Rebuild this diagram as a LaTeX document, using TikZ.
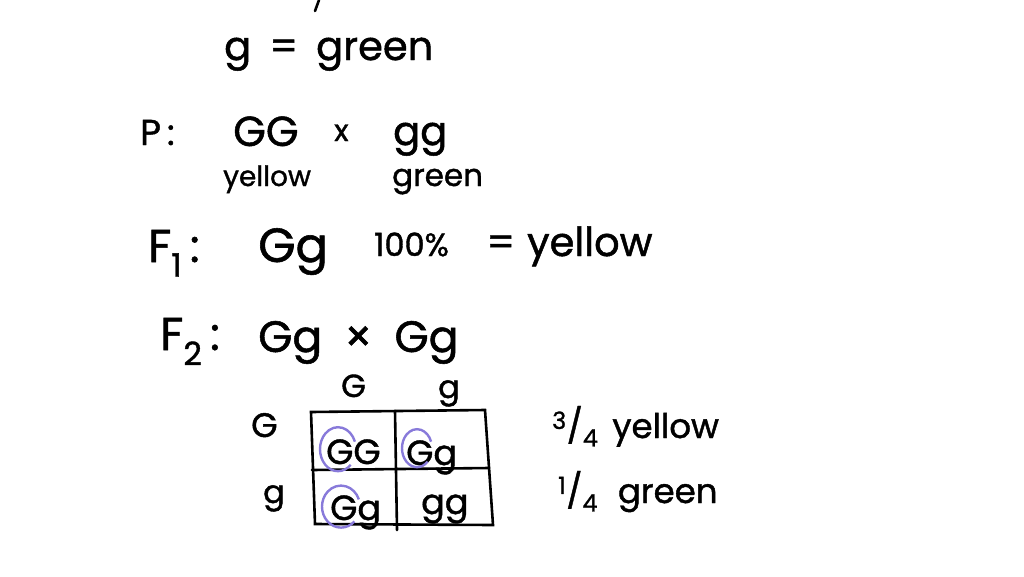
\documentclass[tikz,border=0pt]{standalone}
\usepackage{fontspec}
\setmainfont{Poppins}[FakeBold=1.2]
\begin{document}
\begin{tikzpicture}[x=1pt,y=-1pt,
  txt/.style={inner sep=0pt,anchor=base west,font=\fontsize{#1}{#1}\selectfont},
  txt/.default=34,
  grid/.style={line width=2.6pt,line cap=round,black},
  ring/.style={line width=2.4pt,color=ringc}]
\definecolor{ringc}{RGB}{136,122,218}
\useasboundingbox (0,0) rectangle (1024,576);
% cut-off stroke at the top
\coordinate (t1) at (319,0);
\coordinate (t2) at (315,11);
\draw[line width=2.6pt,line cap=round] (t1) -- (t2);
% key
\node[txt=40] (k) at (224,60) {g\hspace{18pt}=\hspace{18pt}green};
% P line
\node[txt=36] (p) at (140,145) {P\,:};
\node[txt=42] (pGG) at (233,146) {GG};
\node[txt=30] (px) at (334,141) {x};
\node[txt=40] (pgg) at (393,145) {gg};
\node[txt=28] (py) at (223,186) {yellow};
\node[txt=31] (pg) at (392,186) {green};
% F1 line
\node[txt=46] (f1) at (148,262) {F\textsubscript{1}\,:};
\node[txt=48] (f1g) at (258,262) {Gg};
\node[txt=32] (f1p) at (374,256) {100\%};
\node[txt=40] (f1y) at (486,256) {=\hspace{12pt}yellow};
% F2 line
\node[txt=46] (f2) at (160,350) {F\textsubscript{2}\,:};
\node[txt=44] (f2a) at (258,352) {Gg\hspace{22pt}×\hspace{22pt}Gg};
% Punnett headers
\node[txt=32] (hG) at (341,397) {G};
\node[txt=32] (hg) at (438,398) {g};
\node[txt=34] (rG) at (251,437) {G};
\node[txt=32] (rg) at (263,503) {g};
% grid
\coordinate (a) at (311,412);
\coordinate (b) at (485,410);
\coordinate (c) at (493,525);
\coordinate (d) at (315,524);
\coordinate (mt) at (395,411);
\coordinate (mb) at (397,530);
\coordinate (ml) at (312,470);
\coordinate (mr) at (489,468);
\draw[grid] (a) -- (b) -- (c) -- (d) -- cycle;
\draw[grid] (mt) -- (mb);
\draw[grid] (ml) -- (mr);
% cell contents
\node[txt=35] (c1) at (326,464) {GG};
\node[txt=35] (c2) at (406,465) {Gg};
\node[txt=35] (c3) at (330,520) {Gg};
\node[txt=35] (c4) at (421,514) {gg};
% rings
\draw[ring] (338,452) ++(45:18) arc[start angle=45,end angle=340,x radius=18,y radius=22];
\draw[ring] (417,451) ++(45:15) arc[start angle=45,end angle=340,x radius=15,y radius=19];
\draw[ring] (341,508) ++(45:19) arc[start angle=45,end angle=340,x radius=19,y radius=21];
% ratios
\node[txt=34] (r1) at (552,438) {\textsuperscript{3}/\textsubscript{4}\hspace{14pt}yellow};
\node[txt=34] (r2) at (558,503) {\textsuperscript{1}/\textsubscript{4}\hspace{20pt}green};
\end{tikzpicture}
\end{document}
